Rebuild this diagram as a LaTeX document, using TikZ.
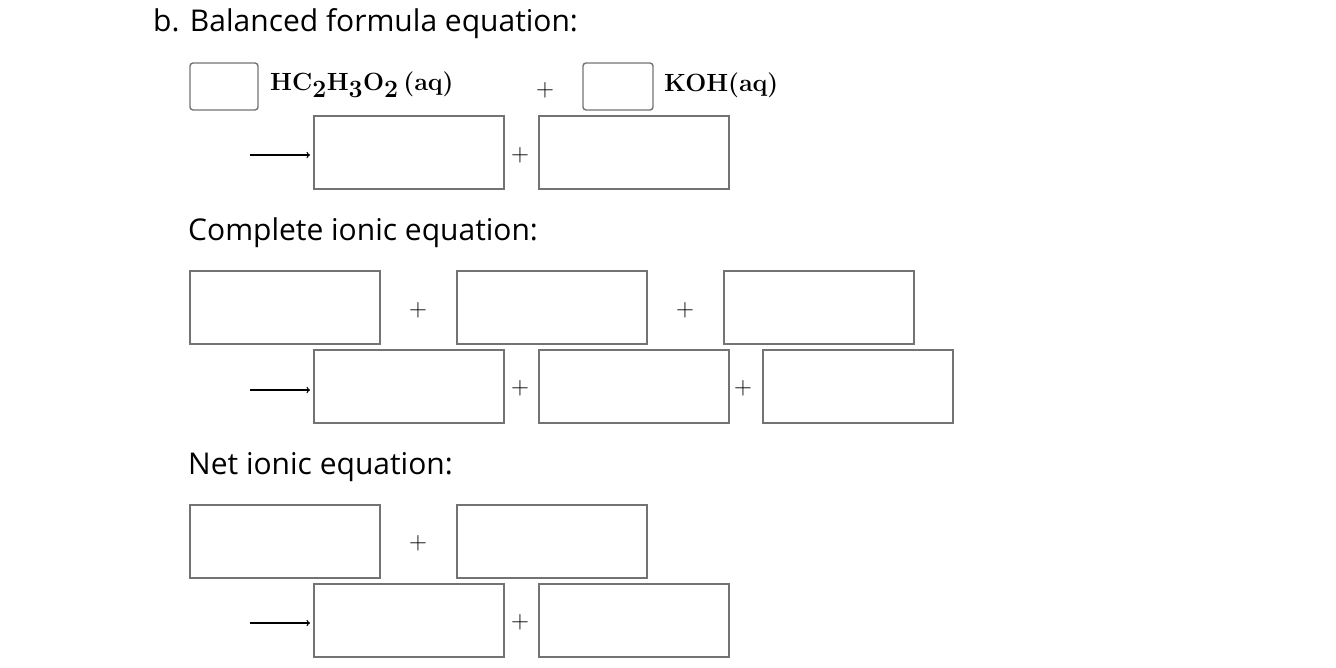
\documentclass[tikz,border=0pt]{standalone}
\usepackage[no-math]{fontspec}
\setmainfont{Open Sans}
\begin{document}
\begin{tikzpicture}[x=1pt,y=-1pt,
  bx/.style={draw=black!55,line width=1.4pt},
  sbx/.style={draw=black!55,line width=1.4pt,rounded corners=3pt},
  lbl/.style={anchor=west,inner sep=0pt,font=\fontsize{30}{34}\selectfont},
  pl/.style={inner sep=0pt,font=\fontsize{30}{34}\selectfont},
  fm/.style={anchor=west,inner sep=0pt,font=\fontsize{35}{40}\selectfont\boldmath},
  ar/.style={-to,line width=1.3pt}]
\useasboundingbox (0,0) rectangle (1336,667);
\node[lbl] (t1) at (153,24) {b. Balanced formula equation:};
\draw[sbx] (190,63) rectangle (258,110);
\node[fm] (f1) at (270,85) {$\mathbf{HC_2H_3O_2\,(aq)}$};
\node[pl] (p0) at (545,90) {$+$};
\draw[sbx] (583,63) rectangle (653,110);
\node[fm] (f2) at (664,85) {$\mathbf{KOH(aq)}$};
% row 2
\coordinate (a1s) at (250,155); \coordinate (a1e) at (310,155);
\draw[ar] (a1s) -- (a1e);
\draw[bx] (314,116) rectangle (504,189);
\node[pl] (p1) at (520,155) {$+$};
\draw[bx] (539,116) rectangle (729,189);
\node[lbl] (t2) at (188,233) {Complete ionic equation:};
% row 3
\draw[bx] (190,271) rectangle (380,344);
\node[pl] (p2) at (418,310) {$+$};
\draw[bx] (457,271) rectangle (647,344);
\node[pl] (p3) at (685,310) {$+$};
\draw[bx] (724,271) rectangle (914,344);
% row 4
\coordinate (a2s) at (250,390); \coordinate (a2e) at (310,390);
\draw[ar] (a2s) -- (a2e);
\draw[bx] (314,350) rectangle (504,423);
\node[pl] (p4) at (520,388) {$+$};
\draw[bx] (539,350) rectangle (729,423);
\node[pl] (p5) at (743,388) {$+$};
\draw[bx] (763,350) rectangle (953,423);
\node[lbl] (t3) at (188,467) {Net ionic equation:};
% row 5
\draw[bx] (190,505) rectangle (380,578);
\node[pl] (p6) at (418,543) {$+$};
\draw[bx] (457,505) rectangle (647,578);
% row 6
\coordinate (a3s) at (250,623); \coordinate (a3e) at (310,623);
\draw[ar] (a3s) -- (a3e);
\draw[bx] (314,584) rectangle (504,657);
\node[pl] (p7) at (520,622) {$+$};
\draw[bx] (539,584) rectangle (729,657);
\end{tikzpicture}
\end{document}
